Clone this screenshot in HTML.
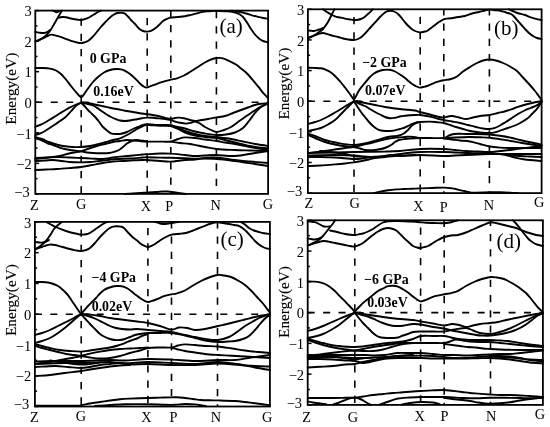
<!DOCTYPE html>
<html><head><meta charset="utf-8"><style>
html,body{margin:0;padding:0;background:#fff;}
svg{display:block;}
text{font-family:"Liberation Serif", "DejaVu Serif", serif;fill:#000;}
.bd path{fill:none;stroke:#000;stroke-width:1.9;stroke-linejoin:round;stroke-linecap:round;}
.dv{stroke:#000;stroke-width:1.6;stroke-dasharray:7.3 7.95;}
.dh{stroke:#000;stroke-width:1.6;stroke-dasharray:7 8.45;}
.tk{stroke:#000;stroke-width:1.5;}
.fr{fill:none;stroke:#000;stroke-width:1.8;}
.tl{font-size:14.5px;text-anchor:end;}
.kl{font-size:14.3px;text-anchor:middle;}
.yl{font-size:15.3px;text-anchor:middle;stroke:#000;stroke-width:0.12px;}
.an{font-size:13.9px;font-weight:bold;}
.lt{font-size:21px;}
</style></head><body>
<svg width="550" height="427" viewBox="0 0 550 427">
<defs><clipPath id="cpa"><rect x="35.3" y="10.6" width="232.8" height="183.3"/></clipPath><clipPath id="cpb"><rect x="307.9" y="9.3" width="233.7" height="183.8"/></clipPath><clipPath id="cpc"><rect x="34.9" y="221.9" width="235" height="184.6"/></clipPath><clipPath id="cpd"><rect x="307.7" y="220.3" width="235.2" height="184.6"/></clipPath></defs>
<g class="bd"><path d="M35.3 68C36.42 68 39.55 67.9 42 68C44.45 68.1 47.67 68.18 50 68.6C52.33 69.02 54.17 69.6 56 70.5C57.83 71.4 59.33 72.5 61 74C62.67 75.5 64.33 77.5 66 79.5C67.67 81.5 69.5 84.08 71 86C72.5 87.92 73.75 89.5 75 91C76.25 92.5 77.45 93.95 78.5 95C79.55 96.05 80.38 97.42 81.3 97.3C82.22 97.18 82.88 95.77 84 94.3C85.12 92.83 86.5 90.55 88 88.5C89.5 86.45 91.33 83.92 93 82C94.67 80.08 96.17 78.58 98 77C99.83 75.42 102 73.67 104 72.5C106 71.33 107.83 70.58 110 70C112.17 69.42 115.17 69.1 117 69C118.83 68.9 119.67 69.1 121 69.4C122.33 69.7 123.67 70.15 125 70.8C126.33 71.45 127.67 72.35 129 73.3C130.33 74.25 131.67 75.33 133 76.5C134.33 77.67 135.75 79.05 137 80.3C138.25 81.55 139.42 82.98 140.5 84C141.58 85.02 142.5 85.8 143.5 86.4C144.5 87 145.42 87.6 146.5 87.6C147.58 87.6 148.58 86.9 150 86.4C151.42 85.9 153.33 85.22 155 84.6C156.67 83.98 158.33 83.27 160 82.7C161.67 82.13 163.17 81.72 165 81.2C166.83 80.68 169 80.08 171 79.6C173 79.12 174.83 78.98 177 78.3C179.17 77.62 181.83 76.55 184 75.5C186.17 74.45 187.83 73.33 190 72C192.17 70.67 194.67 69 197 67.5C199.33 66 201.67 64.33 204 63C206.33 61.67 208.83 60.33 211 59.5C213.17 58.67 215 58.2 217 58C219 57.8 220.83 57.73 223 58.3C225.17 58.87 227.83 60.37 230 61.4C232.17 62.43 234.17 63.32 236 64.5C237.83 65.68 239.17 67 241 68.5C242.83 70 244.92 71.45 247 73.5C249.08 75.55 251.55 78.52 253.5 80.8C255.45 83.08 256.98 85.05 258.7 87.2C260.42 89.35 262.23 91.9 263.8 93.7C265.37 95.5 267.38 97.28 268.1 98"/><path d="M35.3 41.5C36.08 41.2 38.38 40.4 40 39.7C41.62 39 43.5 38.03 45 37.3C46.5 36.57 47.83 35.75 49 35.3C50.17 34.85 50.5 34.45 52 34.6C53.5 34.75 55.83 35.53 58 36.2C60.17 36.87 62.67 37.77 65 38.6C67.33 39.43 69.83 40.52 72 41.2C74.17 41.88 76.47 42.4 78 42.7C79.53 43 80.2 43.03 81.2 43C82.2 42.97 82.87 42.83 84 42.5C85.13 42.17 86.67 41.83 88 41C89.33 40.17 90.67 38.83 92 37.5C93.33 36.17 94.67 34.58 96 33C97.33 31.42 98.5 29.75 100 28C101.5 26.25 103.33 24.25 105 22.5C106.67 20.75 108.5 18.83 110 17.5C111.5 16.17 112.75 15.25 114 14.5C115.25 13.75 116.33 13.27 117.5 13C118.67 12.73 119.83 12.85 121 12.9C122.17 12.95 123.33 12.7 124.5 13.3C125.67 13.9 126.92 15.38 128 16.5C129.08 17.62 129.83 18.75 131 20C132.17 21.25 133.58 22.5 135 24C136.42 25.5 138.17 27.83 139.5 29C140.83 30.17 141.75 30.57 143 31C144.25 31.43 145.67 31.63 147 31.6C148.33 31.57 149.67 31.32 151 30.8C152.33 30.28 153.67 29.47 155 28.5C156.33 27.53 157.67 26.25 159 25C160.33 23.75 161.67 22.02 163 21C164.33 19.98 165.7 19.48 167 18.9C168.3 18.32 168.97 17.82 170.8 17.5C172.63 17.18 175.63 17.22 178 17C180.37 16.78 182.83 16.57 185 16.2C187.17 15.83 189 15.28 191 14.8C193 14.32 195 13.78 197 13.3C199 12.82 201.17 12.23 203 11.9C204.83 11.57 206.5 11.45 208 11.3C209.5 11.15 210.67 11.07 212 11C213.33 10.93 213.83 10.85 216 10.9C218.17 10.95 222.17 11.12 225 11.3C227.83 11.48 230.67 11.55 233 12C235.33 12.45 237.33 13.17 239 14C240.67 14.83 241.67 15.58 243 17C244.33 18.42 245.67 20.5 247 22.5C248.33 24.5 249.67 27 251 29C252.33 31 253.67 32.92 255 34.5C256.33 36.08 257.67 37.42 259 38.5C260.33 39.58 261.48 40.37 263 41C264.52 41.63 267.25 42.08 268.1 42.3"/><path d="M58.5 17.8C59.08 17.67 60.75 17.1 62 17C63.25 16.9 64.33 16.9 66 17.2C67.67 17.5 70 18.37 72 18.8C74 19.23 76.47 19.6 78 19.8C79.53 20 80.03 20.13 81.2 20C82.37 19.87 83.7 19.42 85 19C86.3 18.58 87.5 18.25 89 17.5C90.5 16.75 92.5 15.42 94 14.5C95.5 13.58 96.83 12.65 98 12C99.17 11.35 100.5 10.83 101 10.6"/><path d="M37 41C37.83 40.58 40.33 39.58 42 38.5C43.67 37.42 45.5 36 47 34.5C48.5 33 49.67 31.5 51 29.5C52.33 27.5 53.75 24.67 55 22.5C56.25 20.33 57.33 18.48 58.5 16.5C59.67 14.52 61.42 11.58 62 10.6"/><path d="M35.3 32C36.08 32.13 38.55 32.63 40 32.8C41.45 32.97 42.83 33.1 44 33C45.17 32.9 46 32.7 47 32.2C48 31.7 49.5 30.37 50 30"/><path d="M53 10.6C53.58 10.88 55.42 12.23 56.5 12.3C57.58 12.37 59 11.22 59.5 11"/><path d="M232 10.6C233.33 10.83 237.67 11.52 240 12C242.33 12.48 244 12.95 246 13.5C248 14.05 250 14.75 252 15.3C254 15.85 256.17 16.35 258 16.8C259.83 17.25 261.32 17.67 263 18C264.68 18.33 267.25 18.67 268.1 18.8"/><path d="M35.3 126.6C36.08 126.33 38.38 125.68 40 125C41.62 124.32 43.33 123.42 45 122.5C46.67 121.58 48.33 120.5 50 119.5C51.67 118.5 53.33 117.53 55 116.5C56.67 115.47 58.33 114.35 60 113.3C61.67 112.25 63.33 111.18 65 110.2C66.67 109.22 68.33 108.27 70 107.4C71.67 106.53 73.58 105.63 75 105C76.42 104.37 77.47 103.97 78.5 103.6C79.53 103.23 80.75 102.93 81.2 102.8"/><path d="M35.3 135C36.08 134.75 38.38 134.17 40 133.5C41.62 132.83 43.33 131.95 45 131C46.67 130.05 48.33 128.88 50 127.8C51.67 126.72 53.33 125.63 55 124.5C56.67 123.37 58.33 122.17 60 121C61.67 119.83 63.5 118.75 65 117.5C66.5 116.25 67.67 114.92 69 113.5C70.33 112.08 71.67 110.42 73 109C74.33 107.58 75.63 106.03 77 105C78.37 103.97 80.5 103.17 81.2 102.8"/><path d="M81.2 102.8C81.83 102.82 83.7 102.83 85 102.9C86.3 102.97 88.33 103.15 89 103.2"/><path d="M81.2 102.8C82.67 102.92 87.37 103.13 90 103.5C92.63 103.87 94.83 104.55 97 105C99.17 105.45 100.83 105.73 103 106.2C105.17 106.67 107.5 107.28 110 107.8C112.5 108.32 115.5 108.82 118 109.3C120.5 109.78 122.5 110.25 125 110.7C127.5 111.15 130.5 111.58 133 112C135.5 112.42 137.67 112.83 140 113.2C142.33 113.57 144.67 113.85 147 114.2C149.33 114.55 151.83 114.92 154 115.3C156.17 115.68 158.17 116.08 160 116.5C161.83 116.92 163.23 117.38 165 117.8C166.77 118.22 168.93 118.97 170.6 119C172.27 119.03 173.6 118.23 175 118C176.4 117.77 177.33 117.52 179 117.6C180.67 117.68 183 118.07 185 118.5C187 118.93 189.33 119.78 191 120.2C192.67 120.62 193.5 120.98 195 121C196.5 121.02 197.83 120.63 200 120.3C202.17 119.97 205.23 119.48 208 119C210.77 118.52 213.77 117.9 216.6 117.4C219.43 116.9 222.27 116.73 225 116C227.73 115.27 230.33 114 233 113C235.67 112 238.5 110.92 241 110C243.5 109.08 245.67 108.33 248 107.5C250.33 106.67 252.83 105.62 255 105C257.17 104.38 258.82 104.13 261 103.8C263.18 103.47 266.92 103.13 268.1 103"/><path d="M81.2 102.8C82.33 103 86.03 103.55 88 104C89.97 104.45 91.33 104.75 93 105.5C94.67 106.25 96.33 107.42 98 108.5C99.67 109.58 101.5 110.95 103 112C104.5 113.05 105.67 113.97 107 114.8C108.33 115.63 109.5 116.27 111 117C112.5 117.73 114.5 118.62 116 119.2C117.5 119.78 118.5 120.2 120 120.5C121.5 120.8 123.33 121 125 121C126.67 121 128 120.8 130 120.5C132 120.2 135 119.58 137 119.2C139 118.82 140.33 118.47 142 118.2C143.67 117.93 145.17 117.67 147 117.6C148.83 117.53 151 117.67 153 117.8C155 117.93 157 118.2 159 118.4C161 118.6 163.08 118.73 165 119C166.92 119.27 168.83 119.58 170.5 120C172.17 120.42 173.42 121.03 175 121.5C176.58 121.97 178.17 122.45 180 122.8C181.83 123.15 184.17 123.6 186 123.6C187.83 123.6 189.5 123.15 191 122.8C192.5 122.45 193.5 121.38 195 121.5C196.5 121.62 198.33 122.58 200 123.5C201.67 124.42 203.17 125.92 205 127C206.83 128.08 209.07 129.17 211 130C212.93 130.83 214.43 132 216.6 132C218.77 132 221.6 130.83 224 130C226.4 129.17 228.67 128.33 231 127C233.33 125.67 235.67 123.67 238 122C240.33 120.33 242.83 118.5 245 117C247.17 115.5 249 114.33 251 113C253 111.67 255.17 110.17 257 109C258.83 107.83 260.15 106.95 262 106C263.85 105.05 267.08 103.75 268.1 103.3"/><path d="M81.2 102.8C81.67 103.25 82.87 104.3 84 105.5C85.13 106.7 86.67 108.58 88 110C89.33 111.42 90.67 112.67 92 114C93.33 115.33 94.67 116.5 96 118C97.33 119.5 98.83 121.5 100 123C101.17 124.5 101.83 125.75 103 127C104.17 128.25 105.67 129.45 107 130.5C108.33 131.55 109.5 132.72 111 133.3C112.5 133.88 114.33 133.92 116 134C117.67 134.08 119.17 134.13 121 133.8C122.83 133.47 125 132.8 127 132C129 131.2 131.17 129.83 133 129C134.83 128.17 136.33 127.67 138 127C139.67 126.33 141.5 125.47 143 125C144.5 124.53 145.5 124.3 147 124.2C148.5 124.1 150.5 124.28 152 124.4C153.5 124.52 154.17 124.8 156 124.9C157.83 125 160.58 124.95 163 125C165.42 125.05 168.17 124.78 170.5 125.2C172.83 125.62 174.58 126.53 177 127.5C179.42 128.47 182 129.92 185 131C188 132.08 191.67 133.17 195 134C198.33 134.83 201.4 135.5 205 136C208.6 136.5 213.43 136.67 216.6 137C219.77 137.33 221.6 137.67 224 138C226.4 138.33 227.83 138.42 231 139C234.17 139.58 239 140.67 243 141.5C247 142.33 251.83 143.42 255 144C258.17 144.58 259.82 144.67 262 145C264.18 145.33 267.08 145.83 268.1 146"/><path d="M35.3 137C36.42 137.33 39.72 138.17 42 139C44.28 139.83 46.67 141.13 49 142C51.33 142.87 53.67 143.53 56 144.2C58.33 144.87 60.33 145.53 63 146C65.67 146.47 69 146.83 72 147C75 147.17 78 147.17 81 147C84 146.83 87 146.5 90 146C93 145.5 96.33 144.67 99 144C101.67 143.33 103.67 142.67 106 142C108.33 141.33 111 140.5 113 140C115 139.5 116.33 139.5 118 139C119.67 138.5 121.33 137.75 123 137C124.67 136.25 126.33 135.42 128 134.5C129.67 133.58 131.33 132.5 133 131.5C134.67 130.5 136.33 129.42 138 128.5C139.67 127.58 141.5 126.62 143 126C144.5 125.38 145.5 124.93 147 124.8C148.5 124.67 149.83 125.03 152 125.2C154.17 125.37 156.92 125.67 160 125.8C163.08 125.93 167.5 125.47 170.5 126C173.5 126.53 175.58 127.92 178 129C180.42 130.08 182.17 131.42 185 132.5C187.83 133.58 191.67 134.75 195 135.5C198.33 136.25 201.4 136.58 205 137C208.6 137.42 213.27 137.5 216.6 138C219.93 138.5 221.93 139.25 225 140C228.07 140.75 230.83 141.5 235 142.5C239.17 143.5 244.48 145 250 146C255.52 147 265.08 148.08 268.1 148.5"/><path d="M35.3 138.2C36.42 138.58 39.97 139.65 42 140.5C44.03 141.35 45.67 142.55 47.5 143.3C49.33 144.05 50.58 144.15 53 145C55.42 145.85 58.83 147.52 62 148.4C65.17 149.28 68.83 149.82 72 150.3C75.17 150.78 78.5 150.93 81 151.3C83.5 151.67 85 152.22 87 152.5C89 152.78 90.67 152.88 93 153C95.33 153.12 98.33 153.2 101 153.2C103.67 153.2 106.67 153.28 109 153C111.33 152.72 113.33 152 115 151.5C116.67 151 117.67 150.75 119 150C120.33 149.25 121.67 148.08 123 147C124.33 145.92 125.5 144.5 127 143.5C128.5 142.5 130.33 141.58 132 141C133.67 140.42 135.17 140.03 137 140C138.83 139.97 141.33 140.53 143 140.8C144.67 141.07 146.33 141.47 147 141.6"/><path d="M35.3 159C36.75 158.83 41.05 158.33 44 158C46.95 157.67 50 157.42 53 157C56 156.58 59.67 156 62 155.5C64.33 155 65 154.5 67 154C69 153.5 71.67 152.95 74 152.5C76.33 152.05 78.5 151.97 81 151.3C83.5 150.63 86.33 149.38 89 148.5C91.67 147.62 94.33 146.75 97 146C99.67 145.25 102.33 144.67 105 144C107.67 143.33 110.5 142.5 113 142C115.5 141.5 117.67 141.33 120 141C122.33 140.67 124.5 140.08 127 140C129.5 139.92 132.67 140.3 135 140.5C137.33 140.7 139 141.02 141 141.2C143 141.38 144.67 141.53 147 141.6C149.33 141.67 152.33 141.6 155 141.6C157.67 141.6 160.42 141.6 163 141.6C165.58 141.6 168 142.03 170.5 141.6C173 141.17 175.58 139.7 178 139C180.42 138.3 182.17 137.57 185 137.4C187.83 137.23 191.67 137.65 195 138C198.33 138.35 201.4 139 205 139.5C208.6 140 213.27 140.5 216.6 141C219.93 141.5 221.93 142 225 142.5C228.07 143 230.83 143.25 235 144C239.17 144.75 244.48 146 250 147C255.52 148 265.08 149.5 268.1 150"/><path d="M170.5 141.6C172.08 141.83 176.75 142.6 180 143C183.25 143.4 185.83 143.33 190 144C194.17 144.67 200.57 146.17 205 147C209.43 147.83 211.6 148.5 216.6 149C221.6 149.5 229.43 149.75 235 150C240.57 150.25 244.48 150.33 250 150.5C255.52 150.67 265.08 150.92 268.1 151"/><path d="M35.3 158C36.92 157.92 41.38 157.67 45 157.5C48.62 157.33 52.83 157 57 157C61.17 157 66 157.33 70 157.5C74 157.67 77.33 157.82 81 158C84.67 158.18 88.33 158.43 92 158.6C95.67 158.77 99.5 159.18 103 159C106.5 158.82 109.67 157.93 113 157.5C116.33 157.07 119.67 156.73 123 156.4C126.33 156.07 129.67 155.82 133 155.5C136.33 155.18 140.67 154.72 143 154.5C145.33 154.28 144.17 154.37 147 154.2C149.83 154.03 156.08 153.6 160 153.5C163.92 153.4 166.33 153.35 170.5 153.6C174.67 153.85 180.92 154.6 185 155C189.08 155.4 191.67 155.92 195 156C198.33 156.08 201.4 155.67 205 155.5C208.6 155.33 211.6 154.92 216.6 155C221.6 155.08 228.6 156.33 235 156C241.4 155.67 249.48 153.83 255 153C260.52 152.17 265.92 151.33 268.1 151"/><path d="M35.3 161C36.92 160.92 42.05 160.67 45 160.5C47.95 160.33 50.17 159.92 53 160C55.83 160.08 59.33 160.67 62 161C64.67 161.33 65.83 161.77 69 162C72.17 162.23 77.5 162.4 81 162.4C84.5 162.4 87 162.23 90 162C93 161.77 96 161.33 99 161C102 160.67 105 160.33 108 160C111 159.67 113.33 159.25 117 159C120.67 158.75 125.67 158.75 130 158.5C134.33 158.25 140.17 157.7 143 157.5C145.83 157.3 144.17 157.28 147 157.3C149.83 157.32 156.08 157.52 160 157.6C163.92 157.68 166.33 157.7 170.5 157.8C174.67 157.9 180.92 158.07 185 158.2C189.08 158.33 189.73 158.47 195 158.6C200.27 158.73 209.93 158.6 216.6 159C223.27 159.4 228.6 160.17 235 161C241.4 161.83 249.48 163.17 255 164C260.52 164.83 265.92 165.67 268.1 166"/><path d="M35.3 170C37.08 169.92 42.38 169.67 46 169.5C49.62 169.33 53 169.25 57 169C61 168.75 66 168.33 70 168C74 167.67 77.33 167.5 81 167C84.67 166.5 88.33 165.67 92 165C95.67 164.33 99.5 163.58 103 163C106.5 162.42 109.67 161.83 113 161.5C116.33 161.17 119.67 161.2 123 161C126.33 160.8 129.67 160.47 133 160.3C136.33 160.13 140.67 160.05 143 160C145.33 159.95 144.17 159.83 147 160C149.83 160.17 156.08 160.73 160 161C163.92 161.27 166.33 161.77 170.5 161.6C174.67 161.43 180.92 160.35 185 160C189.08 159.65 191.67 159.83 195 159.5C198.33 159.17 201.4 158.33 205 158C208.6 157.67 211.6 157.17 216.6 157.5C221.6 157.83 229.43 159.33 235 160C240.57 160.67 244.48 161 250 161.5C255.52 162 265.08 162.75 268.1 163"/><path d="M125 194C126.33 193.9 130.5 193.57 133 193.4C135.5 193.23 137.5 193.17 140 193C142.5 192.83 145.33 192.57 148 192.4C150.67 192.23 153.5 192.15 156 192C158.5 191.85 161 191.58 163 191.5C165 191.42 166.17 191.37 168 191.5C169.83 191.63 172 192.02 174 192.3C176 192.58 178 192.92 180 193.2C182 193.48 185 193.87 186 194"/><path d="M170.5 125.3C171.75 125.58 175.58 126.47 178 127C180.42 127.53 182.17 127.75 185 128.5C187.83 129.25 191.67 130.67 195 131.5C198.33 132.33 201.4 132.92 205 133.5C208.6 134.08 213.1 134.83 216.6 135C220.1 135.17 222.93 134.92 226 134.5C229.07 134.08 232.17 133.58 235 132.5C237.83 131.42 240.67 129.92 243 128C245.33 126.08 247 123.5 249 121C251 118.5 253 115.33 255 113C257 110.67 258.82 108.58 261 107C263.18 105.42 266.92 104.08 268.1 103.5"/></g>
<g clip-path="url(#cpa)">
<line class="dv" x1="81.2" y1="3.25" x2="81.2" y2="193.9"/>
<line class="dv" x1="147.2" y1="2.75" x2="147.2" y2="193.9"/>
<line class="dv" x1="170.8" y1="9.75" x2="170.8" y2="193.9"/>
<line class="dv" x1="216.4" y1="-4.3" x2="216.4" y2="193.9"/>
<line class="dh" x1="35.3" y1="102.25" x2="268.1" y2="102.25"/>
</g>
<line class="tk" x1="35.3" y1="193.9" x2="39.1" y2="193.9"/>
<line class="tk" x1="35.3" y1="178.62" x2="37.5" y2="178.62"/>
<line class="tk" x1="35.3" y1="163.35" x2="39.1" y2="163.35"/>
<line class="tk" x1="35.3" y1="148.08" x2="37.5" y2="148.08"/>
<line class="tk" x1="35.3" y1="132.8" x2="39.1" y2="132.8"/>
<line class="tk" x1="35.3" y1="117.53" x2="37.5" y2="117.53"/>
<line class="tk" x1="35.3" y1="102.25" x2="39.1" y2="102.25"/>
<line class="tk" x1="35.3" y1="86.98" x2="37.5" y2="86.98"/>
<line class="tk" x1="35.3" y1="71.7" x2="39.1" y2="71.7"/>
<line class="tk" x1="35.3" y1="56.43" x2="37.5" y2="56.43"/>
<line class="tk" x1="35.3" y1="41.15" x2="39.1" y2="41.15"/>
<line class="tk" x1="35.3" y1="25.88" x2="37.5" y2="25.88"/>
<line class="tk" x1="35.3" y1="10.6" x2="39.1" y2="10.6"/>
<rect class="fr" x="35.3" y="10.6" width="232.8" height="183.3"/>
<text class="tl" x="31.7" y="16.3">3</text>
<text class="tl" x="31.7" y="46.85">2</text>
<text class="tl" x="31.7" y="77.4">1</text>
<text class="tl" x="31.7" y="107.95">0</text>
<text class="tl" x="31.7" y="138.5">−1</text>
<text class="tl" x="31.7" y="169.05">−2</text>
<text class="tl" x="29.7" y="196.7">−3</text>
<text class="kl" x="34.4" y="210">Z</text>
<text class="kl" x="81.2" y="209.3">G</text>
<text class="kl" x="145.9" y="210.9">X</text>
<text class="kl" x="169.3" y="211.4">P</text>
<text class="kl" x="215.6" y="210">N</text>
<text class="kl" x="268" y="208.7">G</text>
<text class="yl" transform="translate(15.7 88.7) rotate(-90)">Energy(eV)</text>
<text class="an" x="89.7" y="63.4">0 GPa</text>
<text class="an" x="93.2" y="96.3">0.16eV</text>
<text class="lt" x="219.4" y="32.6">(a)</text>
<g class="bd"><path d="M307.9 67.8C308.92 67.82 311.82 67.82 314 67.9C316.18 67.98 319 67.98 321 68.3C323 68.62 324.33 69.1 326 69.8C327.67 70.5 329.33 71.3 331 72.5C332.67 73.7 334.33 75.33 336 77C337.67 78.67 339.5 80.75 341 82.5C342.5 84.25 343.67 85.78 345 87.5C346.33 89.22 347.92 91.33 349 92.8C350.08 94.27 350.7 95.22 351.5 96.3C352.3 97.38 353.05 99.3 353.8 99.3C354.55 99.3 355.13 97.77 356 96.3C356.87 94.83 357.67 92.55 359 90.5C360.33 88.45 362.33 86.08 364 84C365.67 81.92 367.33 79.75 369 78C370.67 76.25 372.33 74.67 374 73.5C375.67 72.33 377.5 71.58 379 71C380.5 70.42 381.67 70.23 383 70C384.33 69.77 385.67 69.6 387 69.6C388.33 69.6 389.67 69.68 391 70C392.33 70.32 393.5 70.75 395 71.5C396.5 72.25 398.33 73.42 400 74.5C401.67 75.58 403.5 76.83 405 78C406.5 79.17 407.67 80.42 409 81.5C410.33 82.58 411.75 83.67 413 84.5C414.25 85.33 415.37 85.98 416.5 86.5C417.63 87.02 418.72 87.52 419.8 87.6C420.88 87.68 421.8 87.27 423 87C424.2 86.73 425.67 86.45 427 86C428.33 85.55 429.67 84.87 431 84.3C432.33 83.73 433.67 83.1 435 82.6C436.33 82.1 437.57 81.68 439 81.3C440.43 80.92 441.6 80.68 443.6 80.3C445.6 79.92 448.77 79.63 451 79C453.23 78.37 455 77.75 457 76.5C459 75.25 460.83 73.08 463 71.5C465.17 69.92 467.67 68.42 470 67C472.33 65.58 474.83 64.08 477 63C479.17 61.92 480.9 61.08 483 60.5C485.1 59.92 487.43 59.5 489.6 59.5C491.77 59.5 493.77 59.92 496 60.5C498.23 61.08 500.67 62 503 63C505.33 64 507.67 65.17 510 66.5C512.33 67.83 514.83 69.17 517 71C519.17 72.83 521 75.33 523 77.5C525 79.67 527 81.75 529 84C531 86.25 533.5 89.17 535 91C536.5 92.83 536.9 93.5 538 95C539.1 96.5 541 99.17 541.6 100"/><path d="M307.9 38C308.75 37.63 311.32 36.47 313 35.8C314.68 35.13 316.33 34.47 318 34C319.67 33.53 321.33 32.95 323 33C324.67 33.05 326.33 33.83 328 34.3C329.67 34.77 331.33 35.35 333 35.8C334.67 36.25 336.33 36.55 338 37C339.67 37.45 341.33 38.08 343 38.5C344.67 38.92 346.2 39.25 348 39.5C349.8 39.75 352.13 40.08 353.8 40C355.47 39.92 356.63 39.58 358 39C359.37 38.42 360.67 37.58 362 36.5C363.33 35.42 364.67 33.92 366 32.5C367.33 31.08 368.5 29.67 370 28C371.5 26.33 373.33 24.33 375 22.5C376.67 20.67 378.33 18.67 380 17C381.67 15.33 383.67 13.5 385 12.5C386.33 11.5 387 11.28 388 11C389 10.72 390 10.72 391 10.8C392 10.88 392.83 10.97 394 11.5C395.17 12.03 396.67 12.83 398 14C399.33 15.17 400.67 16.92 402 18.5C403.33 20.08 404.67 22 406 23.5C407.33 25 408.67 26.33 410 27.5C411.33 28.67 412.33 29.68 414 30.5C415.67 31.32 418.33 32.2 420 32.4C421.67 32.6 422.83 31.93 424 31.7C425.17 31.47 425.83 31.62 427 31C428.17 30.38 429.67 29 431 28C432.33 27 433.67 26 435 25C436.33 24 437.57 22.93 439 22C440.43 21.07 442.1 19.98 443.6 19.4C445.1 18.82 446.43 18.73 448 18.5C449.57 18.27 451.33 18.25 453 18C454.67 17.75 456 17.33 458 17C460 16.67 462.67 16.58 465 16C467.33 15.42 469.67 14.17 472 13.5C474.33 12.83 476.83 12.5 479 12C481.17 11.5 483.23 10.9 485 10.5C486.77 10.1 487.93 9.65 489.6 9.6C491.27 9.55 493.1 9.97 495 10.2C496.9 10.43 499.17 10.62 501 11C502.83 11.38 504.33 12 506 12.5C507.67 13 509.67 13.33 511 14C512.33 14.67 513 15.5 514 16.5C515 17.5 515.83 18.67 517 20C518.17 21.33 519.67 23 521 24.5C522.33 26 523.67 27.58 525 29C526.33 30.42 527.67 31.83 529 33C530.33 34.17 531.67 35.17 533 36C534.33 36.83 535.57 37.5 537 38C538.43 38.5 540.83 38.83 541.6 39"/><path d="M509 9.3C509.83 9.67 512.33 10.8 514 11.5C515.67 12.2 517.17 12.92 519 13.5C520.83 14.08 523 14.35 525 15C527 15.65 529.17 16.77 531 17.4C532.83 18.03 534.23 18.37 536 18.8C537.77 19.23 540.67 19.8 541.6 20"/><path d="M323 9.3C323.67 9.75 325.67 11.13 327 12C328.33 12.87 329.67 13.78 331 14.5C332.33 15.22 333.5 15.8 335 16.3C336.5 16.8 338.33 17.12 340 17.5C341.67 17.88 343.33 18.27 345 18.6C346.67 18.93 348.53 19.27 350 19.5C351.47 19.73 352.47 19.97 353.8 20C355.13 20.03 356.8 19.87 358 19.7C359.2 19.53 360 19.37 361 19C362 18.63 362.83 18.33 364 17.5C365.17 16.67 366.83 15.05 368 14C369.17 12.95 370.17 11.98 371 11.2C371.83 10.42 372.67 9.62 373 9.3"/><path d="M309 38C310 37.5 313.33 36 315 35C316.67 34 317.67 33 319 32C320.33 31 321.5 30.67 323 29C324.5 27.33 326.5 24.5 328 22C329.5 19.5 330.92 16.12 332 14C333.08 11.88 334.08 10.08 334.5 9.3"/><path d="M307.9 30.5C308.42 30.53 309.98 30.62 311 30.7C312.02 30.78 312.67 31.2 314 31C315.33 30.8 317.5 30 319 29.5C320.5 29 322.33 28.25 323 28"/><path d="M307.9 124C309.08 123.67 312.82 122.67 315 122C317.18 121.33 318.83 120.92 321 120C323.17 119.08 325.67 117.75 328 116.5C330.33 115.25 332.83 113.75 335 112.5C337.17 111.25 339.33 110 341 109C342.67 108 343.67 107.33 345 106.5C346.33 105.67 347.53 104.85 349 104C350.47 103.15 353 101.83 353.8 101.4"/><path d="M307.9 131C309.08 130.75 312.82 130 315 129.5C317.18 129 318.83 128.83 321 128C323.17 127.17 325.67 125.83 328 124.5C330.33 123.17 332.83 121.75 335 120C337.17 118.25 339.33 115.67 341 114C342.67 112.33 343.67 111.33 345 110C346.33 108.67 347.53 107.43 349 106C350.47 104.57 353 102.17 353.8 101.4"/><path d="M353.8 101.4C354.5 101.4 356.63 101.33 358 101.4C359.37 101.47 361.33 101.73 362 101.8"/><path d="M353.8 101.4C354.83 101.5 358.13 101.73 360 102C361.87 102.27 362.5 102.5 365 103C367.5 103.5 371.67 104.33 375 105C378.33 105.67 381.67 106.42 385 107C388.33 107.58 391.67 108.08 395 108.5C398.33 108.92 401.67 109.17 405 109.5C408.33 109.83 412.5 110.08 415 110.5C417.5 110.92 417.5 111.33 420 112C422.5 112.67 427.17 113.75 430 114.5C432.83 115.25 434.73 115.98 437 116.5C439.27 117.02 441.77 117.6 443.6 117.6C445.43 117.6 446.6 116.77 448 116.5C449.4 116.23 450.17 115.83 452 116C453.83 116.17 456.67 117 459 117.5C461.33 118 463.67 119 466 119C468.33 119 470.67 118 473 117.5C475.33 117 477.23 116.42 480 116C482.77 115.58 486.6 115.5 489.6 115C492.6 114.5 495.27 113.67 498 113C500.73 112.33 503.17 111.83 506 111C508.83 110.17 512 109 515 108C518 107 521.17 105.83 524 105C526.83 104.17 529.07 103.63 532 103C534.93 102.37 540 101.5 541.6 101.2"/><path d="M353.8 101.4C354.83 101.83 358.13 103.23 360 104C361.87 104.77 363.33 105.17 365 106C366.67 106.83 368.33 108 370 109C371.67 110 373.33 111.08 375 112C376.67 112.92 378.33 113.67 380 114.5C381.67 115.33 383.33 116.37 385 117C386.67 117.63 388.33 118.17 390 118.3C391.67 118.43 393.33 118.1 395 117.8C396.67 117.5 398.33 116.83 400 116.5C401.67 116.17 403.33 116 405 115.8C406.67 115.6 408.33 115.43 410 115.3C411.67 115.17 413.33 115.05 415 115C416.67 114.95 417.5 114.75 420 115C422.5 115.25 427.17 115.92 430 116.5C432.83 117.08 434.73 117.92 437 118.5C439.27 119.08 441.1 119.5 443.6 120C446.1 120.5 449.27 121 452 121.5C454.73 122 457.33 122.42 460 123C462.67 123.58 465.33 124.33 468 125C470.67 125.67 473.5 126.42 476 127C478.5 127.58 480.73 128.17 483 128.5C485.27 128.83 487.6 129.12 489.6 129C491.6 128.88 493.27 128.38 495 127.8C496.73 127.22 498.33 126.38 500 125.5C501.67 124.62 503.17 123.65 505 122.5C506.83 121.35 508.83 120.02 511 118.6C513.17 117.18 515.73 115.35 518 114C520.27 112.65 522.43 111.53 524.6 110.5C526.77 109.47 528.97 108.67 531 107.8C533.03 106.93 535.03 106.3 536.8 105.3C538.57 104.3 540.8 102.38 541.6 101.8"/><path d="M353.8 101.4C354.33 102.17 355.8 104.23 357 106C358.2 107.77 359.67 110.17 361 112C362.33 113.83 363.67 115.33 365 117C366.33 118.67 367.67 120.5 369 122C370.33 123.5 371.67 124.83 373 126C374.33 127.17 375.67 128.25 377 129C378.33 129.75 379.67 130.17 381 130.5C382.33 130.83 383.5 130.92 385 131C386.5 131.08 388.33 131.1 390 131C391.67 130.9 393.33 130.73 395 130.4C396.67 130.07 398.33 129.48 400 129C401.67 128.52 403.33 128.17 405 127.5C406.67 126.83 408.33 125.75 410 125C411.67 124.25 413.33 123.5 415 123C416.67 122.5 417.5 122.23 420 122C422.5 121.77 427.17 121.57 430 121.6C432.83 121.63 434.73 121.97 437 122.2C439.27 122.43 441.43 122.53 443.6 123C445.77 123.47 447.93 124.33 450 125C452.07 125.67 453.83 126.33 456 127C458.17 127.67 460.67 128.33 463 129C465.33 129.67 467.17 130.42 470 131C472.83 131.58 476.73 132.17 480 132.5C483.27 132.83 486.93 133.08 489.6 133C492.27 132.92 494.03 132.47 496 132C497.97 131.53 499.4 130.87 501.4 130.2C503.4 129.53 505.73 128.78 508 128C510.27 127.22 512.83 126.42 515 125.5C517.17 124.58 518.95 123.65 521 122.5C523.05 121.35 525.47 120.02 527.3 118.6C529.13 117.18 530.63 115.35 532 114C533.37 112.65 534.5 111.58 535.5 110.5C536.5 109.42 536.98 108.92 538 107.5C539.02 106.08 541 102.92 541.6 102"/><path d="M307.9 133.6C309.08 134 312.15 134.93 315 136C317.85 137.07 322 139 325 140C328 141 330.33 141.4 333 142C335.67 142.6 338.67 143.18 341 143.6C343.33 144.02 344.87 144.27 347 144.5C349.13 144.73 351.3 145.08 353.8 145C356.3 144.92 359.13 144.5 362 144C364.87 143.5 368.33 142.67 371 142C373.67 141.33 375.67 140.73 378 140C380.33 139.27 382.83 138.18 385 137.6C387.17 137.02 389 136.77 391 136.5C393 136.23 395 136.42 397 136C399 135.58 401.17 135 403 134C404.83 133 406.5 131.42 408 130C409.5 128.58 410.67 126.67 412 125.5C413.33 124.33 414.67 123.55 416 123C417.33 122.45 419.33 122.33 420 122.2"/><path d="M307.9 135C309.08 135.5 312.15 136.83 315 138C317.85 139.17 321.67 140.92 325 142C328.33 143.08 331.67 143.8 335 144.5C338.33 145.2 341.87 145.78 345 146.2C348.13 146.62 351.3 146.62 353.8 147C356.3 147.38 358.13 148 360 148.5C361.87 149 362.83 149.72 365 150C367.17 150.28 370.33 150.37 373 150.2C375.67 150.03 378.83 149.45 381 149C383.17 148.55 384.33 148.17 386 147.5C387.67 146.83 389.5 145.92 391 145C392.5 144.08 393.67 142.83 395 142C396.33 141.17 397.33 140.5 399 140C400.67 139.5 403.17 139.25 405 139C406.83 138.75 407.5 138.67 410 138.5C412.5 138.33 416.67 138.08 420 138C423.33 137.92 426.07 138 430 138C433.93 138 440.43 138.42 443.6 138C446.77 137.58 447.27 136.17 449 135.5C450.73 134.83 452.17 134.28 454 134C455.83 133.72 458 133.8 460 133.8C462 133.8 463.5 133.97 466 134C468.5 134.03 471.07 133.92 475 134C478.93 134.08 485.43 134.2 489.6 134.5C493.77 134.8 496.43 135.27 500 135.8C503.57 136.33 507.67 137 511 137.7C514.33 138.4 516.83 139.23 520 140C523.17 140.77 526.4 141.53 530 142.3C533.6 143.07 539.67 144.22 541.6 144.6"/><path d="M443.6 138.3C445.5 138.17 450.6 137.72 455 137.5C459.4 137.28 465.83 137.03 470 137C474.17 136.97 476.73 137.18 480 137.3C483.27 137.42 486.27 137.38 489.6 137.7C492.93 138.02 496.43 138.65 500 139.2C503.57 139.75 507.67 140.43 511 141C514.33 141.57 516.83 142.05 520 142.6C523.17 143.15 526.4 143.73 530 144.3C533.6 144.87 539.67 145.72 541.6 146"/><path d="M307.9 153C309.08 152.88 312.15 152.63 315 152.3C317.85 151.97 321.67 151.47 325 151C328.33 150.53 331.67 150 335 149.5C338.33 149 341.87 148.42 345 148C348.13 147.58 350.97 147.5 353.8 147C356.63 146.5 359.13 145.67 362 145C364.87 144.33 368 143.75 371 143C374 142.25 377 141.25 380 140.5C383 139.75 386 139 389 138.5C392 138 395.33 137.75 398 137.5C400.67 137.25 403 137.15 405 137C407 136.85 408.33 136.57 410 136.6C411.67 136.63 413.33 136.97 415 137.2C416.67 137.43 419.17 137.87 420 138"/><path d="M307.9 153C309.92 152.97 315.48 152.88 320 152.8C324.52 152.72 329.37 152.63 335 152.5C340.63 152.37 347.97 152.12 353.8 152C359.63 151.88 364.8 151.87 370 151.8C375.2 151.73 380 151.73 385 151.6C390 151.47 394.17 151.43 400 151C405.83 150.57 412.73 149.33 420 149C427.27 148.67 437.77 148.83 443.6 149C449.43 149.17 451.27 149.67 455 150C458.73 150.33 462.17 150.75 466 151C469.83 151.25 474.07 151.33 478 151.5C481.93 151.67 485.93 152.08 489.6 152C493.27 151.92 496.6 151.33 500 151C503.4 150.67 506.67 150.42 510 150C513.33 149.58 516.67 148.92 520 148.5C523.33 148.08 526.4 147.92 530 147.5C533.6 147.08 539.67 146.25 541.6 146"/><path d="M307.9 155.6C309.92 155.53 315.48 155.3 320 155.2C324.52 155.1 329.37 154.95 335 155C340.63 155.05 348.8 155.25 353.8 155.5C358.8 155.75 361.47 156.25 365 156.5C368.53 156.75 371.67 157.03 375 157C378.33 156.97 380.83 156.8 385 156.3C389.17 155.8 394.17 154.72 400 154C405.83 153.28 412.73 152.33 420 152C427.27 151.67 437.77 151.92 443.6 152C449.43 152.08 451.27 152.33 455 152.5C458.73 152.67 462.17 152.87 466 153C469.83 153.13 474.07 153.3 478 153.3C481.93 153.3 485.93 152.88 489.6 153C493.27 153.12 497.27 153.67 500 154C502.73 154.33 502.67 154.67 506 155C509.33 155.33 516 155.75 520 156C524 156.25 526.4 156.33 530 156.5C533.6 156.67 539.67 156.92 541.6 157"/><path d="M307.9 157C309.92 157 315.48 156.92 320 157C324.52 157.08 329.37 157.17 335 157.5C340.63 157.83 349.3 158.83 353.8 159C358.3 159.17 359.13 158.83 362 158.5C364.87 158.17 368 157.33 371 157C374 156.67 376.67 156.83 380 156.5C383.33 156.17 387.67 155.08 391 155C394.33 154.92 395.17 156 400 156C404.83 156 412.73 155 420 155C427.27 155 437.77 155.92 443.6 156C449.43 156.08 451.27 155.67 455 155.5C458.73 155.33 462.17 155.17 466 155C469.83 154.83 474.07 154.67 478 154.5C481.93 154.33 485.93 154.08 489.6 154C493.27 153.92 496.6 154 500 154C503.4 154 506.67 154 510 154C513.33 154 516.67 154 520 154C523.33 154 526.4 154 530 154C533.6 154 539.67 154 541.6 154"/><path d="M320 151C322.5 151.25 330.83 152 335 152.5C339.17 153 341.87 153.42 345 154C348.13 154.58 350.47 155.5 353.8 156C357.13 156.5 363.13 156.83 365 157"/><path d="M307.9 166C309.92 165.92 315.48 165.77 320 165.5C324.52 165.23 330.83 164.73 335 164.4C339.17 164.07 341.87 163.83 345 163.5C348.13 163.17 350.97 162.82 353.8 162.4C356.63 161.98 359.47 161.48 362 161C364.53 160.52 366.83 160 369 159.5C371.17 159 372.33 158.42 375 158C377.67 157.58 381.67 157.33 385 157C388.33 156.67 391.67 156.25 395 156C398.33 155.75 401.67 155.67 405 155.5C408.33 155.33 413.33 155.08 415 155"/><path d="M506 155C507.5 155.42 511.83 156.75 515 157.5C518.17 158.25 520.57 158.92 525 159.5C529.43 160.08 538.83 160.75 541.6 161"/><path d="M374 193.1C375 192.85 377.67 192.07 380 191.6C382.33 191.13 385.33 190.67 388 190.3C390.67 189.93 393.33 189.62 396 189.4C398.67 189.18 401.33 189.12 404 189C406.67 188.88 409.33 188.8 412 188.7C414.67 188.6 416.67 188.52 420 188.4C423.33 188.28 428 188.13 432 188C436 187.87 440.67 187.53 444 187.6C447.33 187.67 449.67 188.07 452 188.4C454.33 188.73 456 189.17 458 189.6C460 190.03 462 190.53 464 191C466 191.47 468 192.13 470 192.4C472 192.67 472.67 192.62 476 192.6C479.33 192.58 486 192.35 490 192.3C494 192.25 496.67 192.25 500 192.3C503.33 192.35 507 192.47 510 192.6C513 192.73 516.67 193.02 518 193.1"/><path d="M443.6 138.5C445 138.67 449.27 139.17 452 139.5C454.73 139.83 457 140.17 460 140.5C463 140.83 466.67 140.92 470 141.5C473.33 142.08 476.73 143.17 480 144C483.27 144.83 486.27 145.9 489.6 146.5C492.93 147.1 496.43 147.35 500 147.6C503.57 147.85 506.83 147.93 511 148C515.17 148.07 519.9 148 525 148C530.1 148 538.83 148 541.6 148"/></g>
<g clip-path="url(#cpb)">
<line class="dv" x1="354" y1="1.75" x2="354" y2="193.1"/>
<line class="dv" x1="420.2" y1="1.5" x2="420.2" y2="193.1"/>
<line class="dv" x1="443.8" y1="8.25" x2="443.8" y2="193.1"/>
<line class="dv" x1="489.4" y1="8.25" x2="489.4" y2="193.1"/>
<line class="dh" x1="307.9" y1="101.2" x2="541.6" y2="101.2"/>
</g>
<line class="tk" x1="307.9" y1="193.1" x2="311.7" y2="193.1"/>
<line class="tk" x1="307.9" y1="177.78" x2="310.1" y2="177.78"/>
<line class="tk" x1="307.9" y1="162.47" x2="311.7" y2="162.47"/>
<line class="tk" x1="307.9" y1="147.15" x2="310.1" y2="147.15"/>
<line class="tk" x1="307.9" y1="131.83" x2="311.7" y2="131.83"/>
<line class="tk" x1="307.9" y1="116.52" x2="310.1" y2="116.52"/>
<line class="tk" x1="307.9" y1="101.2" x2="311.7" y2="101.2"/>
<line class="tk" x1="307.9" y1="85.88" x2="310.1" y2="85.88"/>
<line class="tk" x1="307.9" y1="70.57" x2="311.7" y2="70.57"/>
<line class="tk" x1="307.9" y1="55.25" x2="310.1" y2="55.25"/>
<line class="tk" x1="307.9" y1="39.93" x2="311.7" y2="39.93"/>
<line class="tk" x1="307.9" y1="24.62" x2="310.1" y2="24.62"/>
<line class="tk" x1="307.9" y1="9.3" x2="311.7" y2="9.3"/>
<rect class="fr" x="307.9" y="9.3" width="233.7" height="183.8"/>
<text class="tl" x="304.3" y="15">3</text>
<text class="tl" x="304.3" y="45.63">2</text>
<text class="tl" x="304.3" y="76.27">1</text>
<text class="tl" x="304.3" y="106.9">0</text>
<text class="tl" x="304.3" y="137.53">−1</text>
<text class="tl" x="304.3" y="168.17">−2</text>
<text class="tl" x="302.3" y="195.9">−3</text>
<text class="kl" x="308.8" y="208">Z</text>
<text class="kl" x="354.75" y="208">G</text>
<text class="kl" x="418.5" y="211">X</text>
<text class="kl" x="443.7" y="211.5">P</text>
<text class="kl" x="489" y="210.3">N</text>
<text class="kl" x="539.2" y="207.4">G</text>
<text class="yl" transform="translate(289.4 83.6) rotate(-90)">Energy(eV)</text>
<text class="an" x="362.2" y="67.4">−2 GPa</text>
<text class="an" x="365" y="95">0.07eV</text>
<text class="lt" x="493.9" y="34.6">(b)</text>
<g class="bd"><path d="M34.9 282C35.75 282 38.15 281.95 40 282C41.85 282.05 44 282.05 46 282.3C48 282.55 50 282.88 52 283.5C54 284.12 56.17 284.92 58 286C59.83 287.08 61.5 288.67 63 290C64.5 291.33 65.83 292.67 67 294C68.17 295.33 69 296.58 70 298C71 299.42 72 301 73 302.5C74 304 75.08 305.67 76 307C76.92 308.33 77.67 309.4 78.5 310.5C79.33 311.6 80.08 313.6 81 313.6C81.92 313.6 82.83 311.77 84 310.5C85.17 309.23 86.67 307.42 88 306C89.33 304.58 90.67 303.33 92 302C93.33 300.67 94.67 299.42 96 298C97.33 296.58 98.67 294.83 100 293.5C101.33 292.17 102.67 290.92 104 290C105.33 289.08 106.33 288.63 108 288C109.67 287.37 112.17 286.53 114 286.2C115.83 285.87 117.33 285.9 119 286C120.67 286.1 122.5 286.33 124 286.8C125.5 287.27 126.67 287.97 128 288.8C129.33 289.63 130.67 290.77 132 291.8C133.33 292.83 134.67 293.97 136 295C137.33 296.03 138.67 297.08 140 298C141.33 298.92 142.7 299.83 144 300.5C145.3 301.17 146.63 301.88 147.8 302C148.97 302.12 149.8 301.53 151 301.2C152.2 300.87 153.67 300.48 155 300C156.33 299.52 157.5 298.93 159 298.3C160.5 297.67 162.17 296.82 164 296.2C165.83 295.58 167.83 295.08 170 294.6C172.17 294.12 174.5 293.98 177 293.3C179.5 292.62 182.33 291.8 185 290.5C187.67 289.2 190.33 287.08 193 285.5C195.67 283.92 198.33 282.33 201 281C203.67 279.67 206.23 278.5 209 277.5C211.77 276.5 215.1 275.33 217.6 275C220.1 274.67 221.77 275.17 224 275.5C226.23 275.83 228.67 276.17 231 277C233.33 277.83 235.67 279.17 238 280.5C240.33 281.83 242.83 283.33 245 285C247.17 286.67 249 288.5 251 290.5C253 292.5 255 294.83 257 297C259 299.17 261.5 301.75 263 303.5C264.5 305.25 264.85 306 266 307.5C267.15 309 269.25 311.67 269.9 312.5"/><path d="M34.9 249C35.75 248.75 38.32 248.03 40 247.5C41.68 246.97 43.33 246.28 45 245.8C46.67 245.32 48.33 244.73 50 244.6C51.67 244.47 53.33 244.72 55 245C56.67 245.28 58.17 245.8 60 246.3C61.83 246.8 63.83 247.42 66 248C68.17 248.58 70.5 249.3 73 249.8C75.5 250.3 78.83 250.97 81 251C83.17 251.03 84.5 250.5 86 250C87.5 249.5 88.5 249.17 90 248C91.5 246.83 93.33 244.83 95 243C96.67 241.17 98.33 238.83 100 237C101.67 235.17 103.5 233.42 105 232C106.5 230.58 107.67 229.4 109 228.5C110.33 227.6 111.67 226.97 113 226.6C114.33 226.23 115.67 226.28 117 226.3C118.33 226.32 119.83 226.42 121 226.7C122.17 226.98 122.83 227.03 124 228C125.17 228.97 126.5 230.92 128 232.5C129.5 234.08 131.5 236.17 133 237.5C134.5 238.83 135.67 239.42 137 240.5C138.33 241.58 139.67 243.08 141 244C142.33 244.92 143.83 245.5 145 246C146.17 246.5 147 246.97 148 247C149 247.03 149.83 246.7 151 246.2C152.17 245.7 153.5 244.95 155 244C156.5 243.05 158.33 241.58 160 240.5C161.67 239.42 163.67 238.25 165 237.5C166.33 236.75 166.92 236.48 168 236C169.08 235.52 170.33 234.9 171.5 234.6C172.67 234.3 173.58 234.33 175 234.2C176.42 234.07 178.17 234 180 233.8C181.83 233.6 184 233.47 186 233C188 232.53 190 231.75 192 231C194 230.25 195.83 229.37 198 228.5C200.17 227.63 202.83 226.63 205 225.8C207.17 224.97 208.9 224.08 211 223.5C213.1 222.92 215.6 222.38 217.6 222.3C219.6 222.22 221.1 222.72 223 223C224.9 223.28 227.17 223.67 229 224C230.83 224.33 232.33 224.67 234 225C235.67 225.33 237.5 225.42 239 226C240.5 226.58 241.67 227.5 243 228.5C244.33 229.5 245.67 230.67 247 232C248.33 233.33 249.67 235 251 236.5C252.33 238 253.67 239.67 255 241C256.33 242.33 257.67 243.5 259 244.5C260.33 245.5 261.75 246.37 263 247C264.25 247.63 265.35 247.97 266.5 248.3C267.65 248.63 269.33 248.88 269.9 249"/><path d="M46 221.9C46.83 222.33 49.33 223.65 51 224.5C52.67 225.35 54.33 226.22 56 227C57.67 227.78 59.33 228.53 61 229.2C62.67 229.87 64 230.37 66 231C68 231.63 70.5 232.4 73 233C75.5 233.6 78.83 234.38 81 234.6C83.17 234.82 84.5 234.6 86 234.3C87.5 234 88.5 233.6 90 232.8C91.5 232 93.33 230.63 95 229.5C96.67 228.37 98.67 226.92 100 226C101.33 225.08 102 224.62 103 224C104 223.38 105.17 222.65 106 222.3C106.83 221.95 107.67 221.97 108 221.9"/><path d="M36 249C36.83 248.42 39.33 246.83 41 245.5C42.67 244.17 44.5 242.67 46 241C47.5 239.33 48.67 237.5 50 235.5C51.33 233.5 52.67 230.75 54 229C55.33 227.25 56.67 226.18 58 225C59.33 223.82 61.33 222.42 62 221.9"/><path d="M34.9 242C35.42 242.05 36.82 242.2 38 242.3C39.18 242.4 40.67 242.73 42 242.6C43.33 242.47 44.83 241.93 46 241.5C47.17 241.07 48.5 240.25 49 240"/><path d="M155 221.9C155.83 222.17 158.33 223.15 160 223.5C161.67 223.85 163 224.08 165 224C167 223.92 169.67 223.35 172 223C174.33 222.65 177.83 222.08 179 221.9"/><path d="M241 221.9C241.67 222.33 243.67 223.48 245 224.5C246.33 225.52 247.5 227 249 228C250.5 229 252.33 229.83 254 230.5C255.67 231.17 257.33 231.55 259 232C260.67 232.45 262.18 232.87 264 233.2C265.82 233.53 268.92 233.87 269.9 234"/><path d="M34.9 335C36.08 334.67 39.48 333.83 42 333C44.52 332.17 47.33 331.17 50 330C52.67 328.83 55.33 327.33 58 326C60.67 324.67 63.67 323.17 66 322C68.33 320.83 70.17 320 72 319C73.83 318 75.5 316.77 77 316C78.5 315.23 80.33 314.67 81 314.4"/><path d="M34.9 343C36.08 342.67 39.48 341.83 42 341C44.52 340.17 47.33 339.33 50 338C52.67 336.67 55.33 334.83 58 333C60.67 331.17 64 328.58 66 327C68 325.42 68.67 324.67 70 323.5C71.33 322.33 72.67 321.17 74 320C75.33 318.83 76.83 317.43 78 316.5C79.17 315.57 80.5 314.75 81 314.4"/><path d="M81 314.4C81.83 314.4 84.5 314.37 86 314.4C87.5 314.43 89.33 314.57 90 314.6"/><path d="M81 314.4C82.5 314.43 86.83 314.33 90 314.6C93.17 314.87 96.67 315.43 100 316C103.33 316.57 105.83 317.33 110 318C114.17 318.67 120.5 319.42 125 320C129.5 320.58 133.17 321 137 321.5C140.83 322 144.17 322.25 148 323C151.83 323.75 156.1 324.9 160 326C163.9 327.1 168.23 329.35 171.4 329.6C174.57 329.85 176.4 327.77 179 327.5C181.6 327.23 184.33 327.58 187 328C189.67 328.42 192 329.83 195 330C198 330.17 201.17 329.67 205 329C208.83 328.33 214.33 326.83 218 326C221.67 325.17 224.17 324.67 227 324C229.83 323.33 232 322.75 235 322C238 321.25 241.67 320.33 245 319.5C248.33 318.67 252.17 317.67 255 317C257.83 316.33 259.52 315.93 262 315.5C264.48 315.07 268.58 314.58 269.9 314.4"/><path d="M81 314.4C82.17 314.67 85.5 315.23 88 316C90.5 316.77 93.5 317.92 96 319C98.5 320.08 100.67 321.33 103 322.5C105.33 323.67 107.83 325.08 110 326C112.17 326.92 114 327.5 116 328C118 328.5 119.67 328.75 122 329C124.33 329.25 127.5 329.5 130 329.5C132.5 329.5 134 328.92 137 329C140 329.08 144.17 329.67 148 330C151.83 330.33 156.1 330.67 160 331C163.9 331.33 167.23 331.33 171.4 332C175.57 332.67 181.07 334.17 185 335C188.93 335.83 191.67 336.33 195 337C198.33 337.67 201.17 338.5 205 339C208.83 339.5 214 340.33 218 340C222 339.67 225.83 338.33 229 337C232.17 335.67 234.33 333.83 237 332C239.67 330.17 242.5 327.67 245 326C247.5 324.33 249.67 323.33 252 322C254.33 320.67 257 319 259 318C261 317 262.18 316.6 264 316C265.82 315.4 268.92 314.67 269.9 314.4"/><path d="M81 314.4C81.67 315.08 83.5 316.9 85 318.5C86.5 320.1 88.33 322.25 90 324C91.67 325.75 93.33 327.33 95 329C96.67 330.67 98.33 332.67 100 334C101.67 335.33 103.33 336.17 105 337C106.67 337.83 108.33 338.5 110 339C111.67 339.5 113.33 339.83 115 340C116.67 340.17 118.33 340.17 120 340C121.67 339.83 123.33 339.5 125 339C126.67 338.5 128.33 337.67 130 337C131.67 336.33 133.33 335.5 135 335C136.67 334.5 137.83 334.33 140 334C142.17 333.67 144.67 333.17 148 333C151.33 332.83 156.1 333 160 333C163.9 333 167.23 332.58 171.4 333C175.57 333.42 181.07 334.67 185 335.5C188.93 336.33 191.67 337.17 195 338C198.33 338.83 201.17 339.83 205 340.5C208.83 341.17 214.17 341.83 218 342C221.83 342.17 225.17 341.67 228 341.5C230.83 341.33 232.5 341.42 235 341C237.5 340.58 240.67 339.83 243 339C245.33 338.17 247 337.5 249 336C251 334.5 253.17 332 255 330C256.83 328 258.33 325.92 260 324C261.67 322.08 263.35 320.03 265 318.5C266.65 316.97 269.08 315.42 269.9 314.8"/><path d="M34.9 344C36.08 344.33 39.48 345.33 42 346C44.52 346.67 47 347.33 50 348C53 348.67 56.67 349.5 60 350C63.33 350.5 66.5 350.73 70 351C73.5 351.27 77.67 351.68 81 351.6C84.33 351.52 86.83 350.93 90 350.5C93.17 350.07 96.67 349.5 100 349C103.33 348.5 107 348.08 110 347.5C113 346.92 115.5 346.25 118 345.5C120.5 344.75 122.83 343.83 125 343C127.17 342.17 129 341.25 131 340.5C133 339.75 135 339.33 137 338.5C139 337.67 141.17 336.25 143 335.5C144.83 334.75 147.17 334.25 148 334"/><path d="M34.9 345.6C36.08 346 39.48 347.27 42 348C44.52 348.73 47.33 349.33 50 350C52.67 350.67 55.33 351.33 58 352C60.67 352.67 63.33 353.5 66 354C68.67 354.5 71.5 354.67 74 355C76.5 355.33 78.33 355.58 81 356C83.67 356.42 86.83 357.08 90 357.5C93.17 357.92 96.67 358.42 100 358.5C103.33 358.58 106.67 358.42 110 358C113.33 357.58 116.67 356.83 120 356C123.33 355.17 126.67 353.92 130 353C133.33 352.08 137 351.33 140 350.5C143 349.67 144.67 348.5 148 348C151.33 347.5 156.1 347.58 160 347.5C163.9 347.42 168.4 347.83 171.4 347.5C174.4 347.17 175.73 346.02 178 345.5C180.27 344.98 182.17 344.48 185 344.4C187.83 344.32 191.67 344.73 195 345C198.33 345.27 201.17 345.75 205 346C208.83 346.25 213.5 346.08 218 346.5C222.5 346.92 227.5 347.83 232 348.5C236.5 349.17 240.67 349.92 245 350.5C249.33 351.08 253.85 351.58 258 352C262.15 352.42 267.92 352.83 269.9 353"/><path d="M171.4 347.8C172.5 348.08 175.73 348.97 178 349.5C180.27 350.03 182.17 350.5 185 351C187.83 351.5 191.67 352 195 352.5C198.33 353 201.17 353.58 205 354C208.83 354.42 213.5 354.7 218 355C222.5 355.3 227.5 355.55 232 355.8C236.5 356.05 240.67 356.25 245 356.5C249.33 356.75 253.85 357.05 258 357.3C262.15 357.55 267.92 357.88 269.9 358"/><path d="M34.9 364C36.08 363.83 39.48 363.33 42 363C44.52 362.67 47.33 362.42 50 362C52.67 361.58 55.33 361 58 360.5C60.67 360 63.33 359.5 66 359C68.67 358.5 71.5 358 74 357.5C76.5 357 78.33 356.65 81 356C83.67 355.35 86.83 354.33 90 353.6C93.17 352.87 96.67 352.2 100 351.6C103.33 351 106.67 350.43 110 350C113.33 349.57 116.67 349.25 120 349C123.33 348.75 126.67 348.67 130 348.5C133.33 348.33 137 348.17 140 348C143 347.83 146.67 347.58 148 347.5"/><path d="M34.9 361.5C37.42 361.42 44.98 361.08 50 361C55.02 360.92 59.83 361 65 361C70.17 361 76 361.08 81 361C86 360.92 90.17 360.67 95 360.5C99.83 360.33 105 360 110 360C115 360 118.67 360.67 125 360.5C131.33 360.33 140.17 359.15 148 359C155.83 358.85 164.17 359.27 172 359.6C179.83 359.93 187.4 360.93 195 361C202.6 361.07 210.93 360.17 217.6 360C224.27 359.83 229.43 360.42 235 360C240.57 359.58 245.18 358.33 251 357.5C256.82 356.67 266.75 355.42 269.9 355"/><path d="M34.9 364C37.42 363.92 44.98 363.67 50 363.5C55.02 363.33 59.83 363.08 65 363C70.17 362.92 76 363.08 81 363C86 362.92 90.17 362.67 95 362.5C99.83 362.33 105 361.87 110 362C115 362.13 118.67 363.3 125 363.3C131.33 363.3 140.17 362.05 148 362C155.83 361.95 164.17 362.67 172 363C179.83 363.33 187.4 364.17 195 364C202.6 363.83 210.6 362 217.6 362C224.6 362 230.77 363.08 237 364C243.23 364.92 249.52 366.5 255 367.5C260.48 368.5 267.42 369.58 269.9 370"/><path d="M34.9 367C36.58 366.92 41.48 366.67 45 366.5C48.52 366.33 52.17 365.92 56 366C59.83 366.08 63.83 366.67 68 367C72.17 367.33 77.33 368 81 368C84.67 368 86.83 367.5 90 367C93.17 366.5 96.67 365.5 100 365C103.33 364.5 106.67 364.33 110 364C113.33 363.67 116.67 362.92 120 363C123.33 363.08 125.33 364.33 130 364.5C134.67 364.67 141 363.92 148 364C155 364.08 164.17 364.83 172 365C179.83 365.17 187.4 365.25 195 365C202.6 364.75 210.1 363.5 217.6 363.5C225.1 363.5 233.77 364.58 240 365C246.23 365.42 250.02 365.75 255 366C259.98 366.25 267.42 366.42 269.9 366.5"/><path d="M50 360.5C51.67 360.75 56.67 361.5 60 362C63.33 362.5 66.5 363.08 70 363.5C73.5 363.92 77.67 364.42 81 364.5C84.33 364.58 86.83 364.33 90 364C93.17 363.67 98.33 362.75 100 362.5"/><path d="M34.9 376C37.42 375.83 44.98 375.5 50 375C55.02 374.5 59.83 373.67 65 373C70.17 372.33 76.83 371.58 81 371C85.17 370.42 86.83 370 90 369.5C93.17 369 96.67 368.5 100 368C103.33 367.5 106.67 366.92 110 366.5C113.33 366.08 116.67 365.75 120 365.5C123.33 365.25 128.33 365.08 130 365"/><path d="M34.9 405.6C39.08 405.6 53.15 405.6 60 405.6C66.85 405.6 72.5 405.65 76 405.6C79.5 405.55 78.67 405.65 81 405.3C83.33 404.95 86.83 404.05 90 403.5C93.17 402.95 96.67 402.5 100 402C103.33 401.5 106.67 400.97 110 400.5C113.33 400.03 116.67 399.52 120 399.2C123.33 398.88 125.33 398.8 130 398.6C134.67 398.4 143 398.17 148 398C153 397.83 156.1 397.7 160 397.6C163.9 397.5 168.57 397.47 171.4 397.4C174.23 397.33 174.73 397.1 177 397.2C179.27 397.3 182.33 397.7 185 398C187.67 398.3 190.33 398.67 193 399C195.67 399.33 198.17 399.78 201 400C203.83 400.22 207.17 400.23 210 400.3C212.83 400.37 213.83 400.28 218 400.4C222.17 400.52 230.5 400.73 235 401C239.5 401.27 242 401.67 245 402C248 402.33 250.33 402.67 253 403C255.67 403.33 258.18 403.62 261 404C263.82 404.38 268.42 405.08 269.9 405.3"/><path d="M95 406C97.5 405.83 105 405.3 110 405C115 404.7 118.67 404.33 125 404.2C131.33 404.07 141.33 404.1 148 404.2C154.67 404.3 160.5 404.7 165 404.8C169.5 404.9 171.67 404.93 175 404.8C178.33 404.67 181.67 404.07 185 404C188.33 403.93 192.17 404.17 195 404.4C197.83 404.63 200.17 405.1 202 405.4C203.83 405.7 205.33 406.07 206 406.2"/></g>
<g clip-path="url(#cpc)">
<line class="dv" x1="81.2" y1="214.25" x2="81.2" y2="406.5"/>
<line class="dv" x1="147.9" y1="212.75" x2="147.9" y2="406.5"/>
<line class="dv" x1="171.5" y1="221.25" x2="171.5" y2="406.5"/>
<line class="dv" x1="217.5" y1="221.25" x2="217.5" y2="406.5"/>
<line class="dh" x1="34.9" y1="314.2" x2="269.9" y2="314.2"/>
</g>
<line class="tk" x1="34.9" y1="406.5" x2="38.7" y2="406.5"/>
<line class="tk" x1="34.9" y1="391.12" x2="37.1" y2="391.12"/>
<line class="tk" x1="34.9" y1="375.73" x2="38.7" y2="375.73"/>
<line class="tk" x1="34.9" y1="360.35" x2="37.1" y2="360.35"/>
<line class="tk" x1="34.9" y1="344.97" x2="38.7" y2="344.97"/>
<line class="tk" x1="34.9" y1="329.58" x2="37.1" y2="329.58"/>
<line class="tk" x1="34.9" y1="314.2" x2="38.7" y2="314.2"/>
<line class="tk" x1="34.9" y1="298.82" x2="37.1" y2="298.82"/>
<line class="tk" x1="34.9" y1="283.43" x2="38.7" y2="283.43"/>
<line class="tk" x1="34.9" y1="268.05" x2="37.1" y2="268.05"/>
<line class="tk" x1="34.9" y1="252.67" x2="38.7" y2="252.67"/>
<line class="tk" x1="34.9" y1="237.28" x2="37.1" y2="237.28"/>
<line class="tk" x1="34.9" y1="221.9" x2="38.7" y2="221.9"/>
<rect class="fr" x="34.9" y="221.9" width="235" height="184.6"/>
<text class="tl" x="31.3" y="227.6">3</text>
<text class="tl" x="31.3" y="258.37">2</text>
<text class="tl" x="31.3" y="289.13">1</text>
<text class="tl" x="31.3" y="319.9">0</text>
<text class="tl" x="31.3" y="350.67">−1</text>
<text class="tl" x="31.3" y="381.43">−2</text>
<text class="tl" x="29.3" y="409.3">−3</text>
<text class="kl" x="34.4" y="421.6">Z</text>
<text class="kl" x="81" y="421.3">G</text>
<text class="kl" x="146.5" y="421.7">X</text>
<text class="kl" x="173.6" y="421.7">P</text>
<text class="kl" x="216" y="421.5">N</text>
<text class="kl" x="267.2" y="421.8">G</text>
<text class="yl" transform="translate(16.2 300.1) rotate(-90)">Energy(eV)</text>
<text class="an" x="91.5" y="282.2">−4 GPa</text>
<text class="an" x="91.7" y="311.1">0.02eV</text>
<text class="lt" x="220.5" y="245.9">(c)</text>
<g class="bd"><path d="M307.7 281.3C308.92 281.35 312.95 281.42 315 281.6C317.05 281.78 318.33 282 320 282.4C321.67 282.8 323.33 283.23 325 284C326.67 284.77 328.5 285.95 330 287C331.5 288.05 332.67 289.08 334 290.3C335.33 291.52 336.67 292.97 338 294.3C339.33 295.63 340.67 296.97 342 298.3C343.33 299.63 344.67 300.93 346 302.3C347.33 303.67 348.92 305.35 350 306.5C351.08 307.65 351.73 308.35 352.5 309.2C353.27 310.05 353.85 311.63 354.6 311.6C355.35 311.57 356.1 309.93 357 309C357.9 308.07 359 307 360 306C361 305 361.67 304.17 363 303C364.33 301.83 366.33 300.33 368 299C369.67 297.67 371.33 296.33 373 295C374.67 293.67 376.33 292.08 378 291C379.67 289.92 381.33 289.3 383 288.5C384.67 287.7 386.33 286.67 388 286.2C389.67 285.73 391.33 285.63 393 285.7C394.67 285.77 396.33 286 398 286.6C399.67 287.2 401.33 288.32 403 289.3C404.67 290.28 406.33 291.28 408 292.5C409.67 293.72 411.5 295.42 413 296.6C414.5 297.78 415.75 298.8 417 299.6C418.25 300.4 419.33 301.25 420.5 301.4C421.67 301.55 422.75 300.9 424 300.5C425.25 300.1 426.17 299.72 428 299C429.83 298.28 432.27 296.98 435 296.2C437.73 295.42 441.57 294.87 444.4 294.3C447.23 293.73 449.73 293.38 452 292.8C454.27 292.22 455.67 291.93 458 290.8C460.33 289.67 463.33 287.47 466 286C468.67 284.53 471.33 283.17 474 282C476.67 280.83 479.25 279.83 482 279C484.75 278.17 488 277.25 490.5 277C493 276.75 494.75 277.17 497 277.5C499.25 277.83 501.83 278.25 504 279C506.17 279.75 508 280.92 510 282C512 283.08 514.17 284.33 516 285.5C517.83 286.67 519.33 287.75 521 289C522.67 290.25 524.5 291.58 526 293C527.5 294.42 528.67 295.92 530 297.5C531.33 299.08 532.67 300.83 534 302.5C535.33 304.17 536.52 305.87 538 307.5C539.48 309.13 542.08 311.5 542.9 312.3"/><path d="M307.7 245.5C308.25 245.3 309.78 244.72 311 244.3C312.22 243.88 313.67 243.38 315 243C316.33 242.62 317.67 242.33 319 242C320.33 241.67 321.67 241.12 323 241C324.33 240.88 325.83 241.13 327 241.3C328.17 241.47 328.67 241.72 330 242C331.33 242.28 333.33 242.67 335 243C336.67 243.33 338.33 243.67 340 244C341.67 244.33 343.33 244.67 345 245C346.67 245.33 348.4 245.75 350 246C351.6 246.25 353.1 246.67 354.6 246.5C356.1 246.33 357.6 245.58 359 245C360.4 244.42 361.5 244 363 243C364.5 242 366.33 240.33 368 239C369.67 237.67 371.33 236.25 373 235C374.67 233.75 376.33 232.5 378 231.5C379.67 230.5 381.33 229.58 383 229C384.67 228.42 386.33 228 388 228C389.67 228 391.5 228.5 393 229C394.5 229.5 395.67 230 397 231C398.33 232 399.67 233.67 401 235C402.33 236.33 403.67 237.75 405 239C406.33 240.25 407.67 241.33 409 242.5C410.33 243.67 411.67 245.17 413 246C414.33 246.83 415.77 247.17 417 247.5C418.23 247.83 419.23 248.05 420.4 248C421.57 247.95 422.73 247.53 424 247.2C425.27 246.87 426.5 246.7 428 246C429.5 245.3 431.33 244 433 243C434.67 242 436.1 241 438 240C439.9 239 442.23 237.75 444.4 237C446.57 236.25 448.73 235.83 451 235.5C453.27 235.17 455.5 235.5 458 235C460.5 234.5 463.33 233.5 466 232.5C468.67 231.5 471.33 230.17 474 229C476.67 227.83 479.25 226.62 482 225.5C484.75 224.38 488 222.67 490.5 222.3C493 221.93 494.75 222.85 497 223.3C499.25 223.75 501.83 224.47 504 225C506.17 225.53 508 226 510 226.5C512 227 514.17 227.42 516 228C517.83 228.58 519.33 229.33 521 230C522.67 230.67 524.33 231.42 526 232C527.67 232.58 529.33 233 531 233.5C532.67 234 534.02 234.58 536 235C537.98 235.42 541.75 235.83 542.9 236"/><path d="M330 230.5C330.83 230.67 333.33 231.12 335 231.5C336.67 231.88 338.33 232.38 340 232.8C341.67 233.22 343.33 233.68 345 234C346.67 234.32 348.33 234.53 350 234.7C351.67 234.87 353.33 235.12 355 235C356.67 234.88 358.67 234.25 360 234C361.33 233.75 361.67 233.92 363 233.5C364.33 233.08 366.33 232.25 368 231.5C369.67 230.75 371.33 230 373 229C374.67 228 376.33 226.58 378 225.5C379.67 224.42 381.33 223.22 383 222.5C384.67 221.78 385.5 221.45 388 221.2C390.5 220.95 394.67 220.95 398 221C401.33 221.05 404.67 221.33 408 221.5C411.33 221.67 415 221.78 418 222C421 222.22 423.33 222.63 426 222.8C428.67 222.97 431 222.93 434 223C437 223.07 441.33 223.28 444 223.2C446.67 223.12 448.33 222.82 450 222.5C451.67 222.18 452.67 221.67 454 221.3C455.33 220.93 457.33 220.47 458 220.3"/><path d="M309 245C309.83 244.58 312.5 243.25 314 242.5C315.5 241.75 316.83 241.25 318 240.5C319.17 239.75 320.17 238.75 321 238C321.83 237.25 322.33 236.75 323 236C323.67 235.25 324.33 234.33 325 233.5C325.67 232.67 326.33 231.83 327 231C327.67 230.17 328.33 229.33 329 228.5C329.67 227.67 330.33 226.83 331 226C331.67 225.17 332.33 224.45 333 223.5C333.67 222.55 334.67 220.83 335 220.3"/><path d="M307.7 238.5C308.25 238.58 309.78 238.83 311 239C312.22 239.17 313.67 239.58 315 239.5C316.33 239.42 318 238.83 319 238.5C320 238.17 320.67 237.67 321 237.5"/><path d="M307.7 221.3C308.25 221.35 309.78 221.45 311 221.6C312.22 221.75 313.83 221.88 315 222.2C316.17 222.52 317.17 223.12 318 223.5C318.83 223.88 319.33 224.15 320 224.5C320.67 224.85 321.33 225.27 322 225.6C322.67 225.93 323.17 226.33 324 226.5C324.83 226.67 326 226.6 327 226.6C328 226.6 329.5 226.52 330 226.5"/><path d="M513 220.3C513.5 220.83 515 222.38 516 223.5C517 224.62 518 225.75 519 227C520 228.25 520.83 229.5 522 231C523.17 232.5 524.83 234.58 526 236C527.17 237.42 527.83 238.42 529 239.5C530.17 240.58 531.67 241.67 533 242.5C534.33 243.33 535.35 243.92 537 244.5C538.65 245.08 541.92 245.75 542.9 246"/><path d="M307.7 331C308.92 330.67 312.45 329.83 315 329C317.55 328.17 320.33 327.08 323 326C325.67 324.92 328.33 323.67 331 322.5C333.67 321.33 336.67 320 339 319C341.33 318 343.17 317.25 345 316.5C346.83 315.75 348.4 315.12 350 314.5C351.6 313.88 353.83 313.08 354.6 312.8"/><path d="M307.7 338C308.92 337.75 312.45 337.17 315 336.5C317.55 335.83 320.33 335.08 323 334C325.67 332.92 328.33 331.5 331 330C333.67 328.5 336.83 326.5 339 325C341.17 323.5 342.33 322.33 344 321C345.67 319.67 347.67 318.08 349 317C350.33 315.92 351.07 315.2 352 314.5C352.93 313.8 354.17 313.08 354.6 312.8"/><path d="M354.6 312.8C355.33 312.8 357.6 312.77 359 312.8C360.4 312.83 362.33 312.97 363 313"/><path d="M354.6 312.8C356 313 359.93 313.55 363 314C366.07 314.45 369.67 315 373 315.5C376.33 316 379.33 316.5 383 317C386.67 317.5 390 318 395 318.5C400 319 408.67 319.5 413 320C417.33 320.5 417.67 320.92 421 321.5C424.33 322.08 429.17 322.83 433 323.5C436.83 324.17 440.83 325.42 444 325.5C447.17 325.58 449.5 324.08 452 324C454.5 323.92 456.67 324.5 459 325C461.33 325.5 463.67 326.92 466 327C468.33 327.08 470.67 326 473 325.5C475.33 325 477.17 324.42 480 324C482.83 323.58 487 323.33 490 323C493 322.67 495.33 322.5 498 322C500.67 321.5 503 320.67 506 320C509 319.33 512.33 318.75 516 318C519.67 317.25 524.67 316.17 528 315.5C531.33 314.83 533.52 314.42 536 314C538.48 313.58 541.75 313.17 542.9 313"/><path d="M354.6 312.8C355.83 313.17 359.6 314.3 362 315C364.4 315.7 366.67 316.17 369 317C371.33 317.83 373.67 319 376 320C378.33 321 380.83 322.17 383 323C385.17 323.83 387 324.5 389 325C391 325.5 392.67 325.88 395 326C397.33 326.12 400 326.03 403 325.7C406 325.37 410 324.2 413 324C416 323.8 417.67 324 421 324.5C424.33 325 429.17 326.33 433 327C436.83 327.67 440.83 327.92 444 328.5C447.17 329.08 449.33 329.92 452 330.5C454.67 331.08 457.33 331.5 460 332C462.67 332.5 465.33 333 468 333.5C470.67 334 473.5 334.65 476 335C478.5 335.35 480.58 335.5 483 335.6C485.42 335.7 488 335.78 490.5 335.6C493 335.42 495.42 334.93 498 334.5C500.58 334.07 503.5 333.58 506 333C508.5 332.42 510.67 331.83 513 331C515.33 330.17 517.83 329.08 520 328C522.17 326.92 524 325.83 526 324.5C528 323.17 530.17 321.42 532 320C533.83 318.58 535.18 317.17 537 316C538.82 314.83 541.92 313.5 542.9 313"/><path d="M354.6 312.8C355.17 313.5 356.6 315.3 358 317C359.4 318.7 361.33 321.17 363 323C364.67 324.83 366.33 326.33 368 328C369.67 329.67 371.5 331.67 373 333C374.5 334.33 375.67 335.25 377 336C378.33 336.75 379.33 337.17 381 337.5C382.67 337.83 385 337.92 387 338C389 338.08 391.17 338.08 393 338C394.83 337.92 396.33 337.92 398 337.5C399.67 337.08 401.33 336.08 403 335.5C404.67 334.92 406.33 334.58 408 334C409.67 333.42 410.83 332.42 413 332C415.17 331.58 417.67 331.58 421 331.5C424.33 331.42 429.17 331.5 433 331.5C436.83 331.5 440.33 331.83 444 331.5C447.67 331.17 451.33 330.08 455 329.5C458.67 328.92 463 327.83 466 328C469 328.17 470.67 329.67 473 330.5C475.33 331.33 477.08 332.42 480 333C482.92 333.58 487.5 334.08 490.5 334C493.5 333.92 495.42 333.17 498 332.5C500.58 331.83 503.33 331 506 330C508.67 329 511.67 327.58 514 326.5C516.33 325.42 518 324.5 520 323.5C522 322.5 524 321.5 526 320.5C528 319.5 529.18 318.72 532 317.5C534.82 316.28 541.08 313.92 542.9 313.2"/><path d="M307.7 338.5C308.92 338.92 312.45 340.25 315 341C317.55 341.75 320.33 342.33 323 343C325.67 343.67 328.33 344.5 331 345C333.67 345.5 336.33 345.72 339 346C341.67 346.28 344.4 346.53 347 346.7C349.6 346.87 351.93 347.03 354.6 347C357.27 346.97 359.93 346.83 363 346.5C366.07 346.17 369.67 345.5 373 345C376.33 344.5 379.67 343.92 383 343.5C386.33 343.08 389.67 342.83 393 342.5C396.33 342.17 399.67 342.08 403 341.5C406.33 340.92 410 339.92 413 339C416 338.08 417.67 336.5 421 336C424.33 335.5 429.17 336 433 336C436.83 336 441 335.75 444 336C447 336.25 448.67 337 451 337.5C453.33 338 454.83 338.58 458 339C461.17 339.42 466 339.83 470 340C474 340.17 478.58 340 482 340C485.42 340 487.5 339.92 490.5 340C493.5 340.08 497.08 340.33 500 340.5C502.92 340.67 504.67 340.58 508 341C511.33 341.42 516.33 342.42 520 343C523.67 343.58 526.18 344 530 344.5C533.82 345 540.75 345.75 542.9 346"/><path d="M307.7 340C308.92 340.42 312.45 341.67 315 342.5C317.55 343.33 320.33 344.25 323 345C325.67 345.75 328.33 346.42 331 347C333.67 347.58 336.33 348.08 339 348.5C341.67 348.92 344.4 349.17 347 349.5C349.6 349.83 351.93 350.25 354.6 350.5C357.27 350.75 359.93 350.92 363 351C366.07 351.08 369.67 351.25 373 351C376.33 350.75 379.67 350.25 383 349.5C386.33 348.75 389.67 347.42 393 346.5C396.33 345.58 399.67 344.58 403 344C406.33 343.42 410 343.17 413 343C416 342.83 417.67 343 421 343C424.33 343 429.17 343 433 343C436.83 343 441.17 343.25 444 343C446.83 342.75 448 342.08 450 341.5C452 340.92 453.83 339.67 456 339.5C458.17 339.33 460.67 340.17 463 340.5C465.33 340.83 467.17 341.25 470 341.5C472.83 341.75 476.58 341.92 480 342C483.42 342.08 487.17 341.83 490.5 342C493.83 342.17 496.75 342.67 500 343C503.25 343.33 506.67 343.67 510 344C513.33 344.33 516.67 344.67 520 345C523.33 345.33 526.18 345.67 530 346C533.82 346.33 540.75 346.83 542.9 347"/><path d="M444 344C445.33 344.17 449.33 344.67 452 345C454.67 345.33 457.33 345.67 460 346C462.67 346.33 465.33 346.75 468 347C470.67 347.25 473.5 347.25 476 347.5C478.5 347.75 480.58 348.25 483 348.5C485.42 348.75 487.67 348.83 490.5 349C493.33 349.17 496.75 349.37 500 349.5C503.25 349.63 506.67 349.72 510 349.8C513.33 349.88 516.67 349.97 520 350C523.33 350.03 526.18 350 530 350C533.82 350 540.75 350 542.9 350"/><path d="M307.7 356C308.92 355.83 312.45 355.33 315 355C317.55 354.67 320.33 354.33 323 354C325.67 353.67 328.33 353.33 331 353C333.67 352.67 336.33 352.33 339 352C341.67 351.67 344.4 351.25 347 351C349.6 350.75 351.93 350.83 354.6 350.5C357.27 350.17 359.93 349.58 363 349C366.07 348.42 369.67 347.58 373 347C376.33 346.42 379.67 346 383 345.5C386.33 345 389.67 344.42 393 344C396.33 343.58 399.67 343.17 403 343C406.33 342.83 411.33 343 413 343"/><path d="M307.7 355C309.75 355 315.78 355 320 355C324.22 355 328.83 355 333 355C337.17 355 341.4 355 345 355C348.6 355 351.27 355 354.6 355C357.93 355 361.6 354.92 365 355C368.4 355.08 371.67 355.5 375 355.5C378.33 355.5 381.17 355.42 385 355C388.83 354.58 393.83 353.33 398 353C402.17 352.67 406.17 353 410 353C413.83 353 417.17 352.83 421 353C424.83 353.17 429.17 353.67 433 354C436.83 354.33 440.33 354.83 444 355C447.67 355.17 451.33 354.92 455 355C458.67 355.08 462.17 355.5 466 355.5C469.83 355.5 473.92 355.18 478 355C482.08 354.82 486.83 354.57 490.5 354.4C494.17 354.23 496.75 354.07 500 354C503.25 353.93 506.67 354.17 510 354C513.33 353.83 516.67 353.33 520 353C523.33 352.67 526.18 352.42 530 352C533.82 351.58 540.75 350.75 542.9 350.5"/><path d="M307.7 357C309.75 357 315.78 357 320 357C324.22 357 328.83 356.92 333 357C337.17 357.08 341.4 357.33 345 357.5C348.6 357.67 351.27 357.92 354.6 358C357.93 358.08 361.6 358.08 365 358C368.4 357.92 371.67 357.67 375 357.5C378.33 357.33 381.17 357.25 385 357C388.83 356.75 393.83 356.2 398 356C402.17 355.8 406.17 355.87 410 355.8C413.83 355.73 417.17 355.57 421 355.6C424.83 355.63 429.17 355.77 433 356C436.83 356.23 440.17 356.67 444 357C447.83 357.33 452.33 357.83 456 358C459.67 358.17 462.33 358.17 466 358C469.67 357.83 473.92 357.33 478 357C482.08 356.67 486.83 356.17 490.5 356C494.17 355.83 496.75 355.92 500 356C503.25 356.08 506.67 356.17 510 356.5C513.33 356.83 516.67 357.42 520 358C523.33 358.58 526.18 359.42 530 360C533.82 360.58 540.75 361.25 542.9 361.5"/><path d="M307.7 359C309.75 359 315.78 358.92 320 359C324.22 359.08 328.83 359.25 333 359.5C337.17 359.75 341.4 360.25 345 360.5C348.6 360.75 351.6 360.58 354.6 361C357.6 361.42 360.43 362.83 363 363C365.57 363.17 367.5 362.5 370 362C372.5 361.5 375.17 360.58 378 360C380.83 359.42 383.67 358.83 387 358.5C390.33 358.17 394.17 358.08 398 358C401.83 357.92 406.17 358 410 358C413.83 358 417.17 357.92 421 358C424.83 358.08 429.17 358.42 433 358.5C436.83 358.58 440.17 358.5 444 358.5C447.83 358.5 452.33 358.5 456 358.5C459.67 358.5 462.33 358.55 466 358.5C469.67 358.45 473.92 358.28 478 358.2C482.08 358.12 486.83 357.95 490.5 358C494.17 358.05 496.75 358.25 500 358.5C503.25 358.75 506.67 359.08 510 359.5C513.33 359.92 516.67 360.5 520 361C523.33 361.5 526.18 362.08 530 362.5C533.82 362.92 540.75 363.33 542.9 363.5"/><path d="M323 355C324.67 355.25 329.67 356 333 356.5C336.33 357 339.4 357.55 343 358C346.6 358.45 351.27 359.12 354.6 359.2C357.93 359.28 361.6 358.62 363 358.5"/><path d="M307.7 367.5C309.75 367.38 315.78 367.05 320 366.8C324.22 366.55 328.83 366.38 333 366C337.17 365.62 341.4 364.83 345 364.5C348.6 364.17 351.6 364.42 354.6 364C357.6 363.58 359.93 362.67 363 362C366.07 361.33 369.67 360.67 373 360C376.33 359.33 379.67 358.58 383 358C386.33 357.42 389.67 356.92 393 356.5C396.33 356.08 399.67 355.75 403 355.5C406.33 355.25 411.33 355.08 413 355"/><path d="M490.5 356.5C492.08 356.58 496.75 356.83 500 357C503.25 357.17 506.67 357.25 510 357.5C513.33 357.75 516.67 358.17 520 358.5C523.33 358.83 526.18 359.25 530 359.5C533.82 359.75 540.75 359.92 542.9 360"/><path d="M307.7 398C309.75 398 315.78 398 320 398C324.22 398 328.83 398.03 333 398C337.17 397.97 341.4 397.87 345 397.8C348.6 397.73 351.6 397.82 354.6 397.6C357.6 397.38 359.93 396.93 363 396.5C366.07 396.07 369.67 395.42 373 395C376.33 394.58 379.67 394.33 383 394C386.33 393.67 389.67 393.28 393 393C396.33 392.72 399.67 392.55 403 392.3C406.33 392.05 410 391.72 413 391.5C416 391.28 417.83 391.18 421 391C424.17 390.82 428.17 390.57 432 390.4C435.83 390.23 440.67 389.93 444 390C447.33 390.07 449 390.47 452 390.8C455 391.13 459 391.63 462 392C465 392.37 467.33 392.73 470 393C472.67 393.27 474.58 393.35 478 393.6C481.42 393.85 486.83 394.27 490.5 394.5C494.17 394.73 496.75 394.92 500 395C503.25 395.08 506.67 394.92 510 395C513.33 395.08 516.67 395.33 520 395.5C523.33 395.67 526.18 395.75 530 396C533.82 396.25 540.75 396.83 542.9 397"/><path d="M307.7 401.5C308.58 401.67 311.12 402.2 313 402.5C314.88 402.8 316.83 403 319 403.3C321.17 403.6 324.83 404.13 326 404.3"/><path d="M333 404.6C333.83 404.33 336.17 403.68 338 403C339.83 402.32 342.17 401.25 344 400.5C345.83 399.75 347.23 398.98 349 398.5C350.77 398.02 352.93 397.6 354.6 397.6C356.27 397.6 357.43 397.93 359 398.5C360.57 399.07 362.33 400.08 364 401C365.67 401.92 367.83 403.37 369 404C370.17 404.63 370.67 404.67 371 404.8"/><path d="M380 404.5C381.67 403.92 387 402 390 401C393 400 394.67 399.08 398 398.5C401.33 397.92 406.17 397.75 410 397.5C413.83 397.25 417.17 397.08 421 397C424.83 396.92 429.17 397 433 397C436.83 397 440.67 396.92 444 397C447.33 397.08 450 397.33 453 397.5C456 397.67 458.17 397.87 462 398C465.83 398.13 471.25 398.33 476 398.3C480.75 398.27 485.67 397.88 490.5 397.8C495.33 397.72 500.08 397.77 505 397.8C509.92 397.83 515.83 397.93 520 398C524.17 398.07 526.18 398.2 530 398.2C533.82 398.2 540.75 398.03 542.9 398"/><path d="M444 398C445.33 398.17 449 398.67 452 399C455 399.33 459 399.67 462 400C465 400.33 467.33 400.58 470 401C472.67 401.42 475.5 402.08 478 402.5C480.5 402.92 482.92 403.28 485 403.5C487.08 403.72 488 403.83 490.5 403.8C493 403.77 496.75 403.55 500 403.3C503.25 403.05 506.67 402.77 510 402.3C513.33 401.83 516.67 401.05 520 400.5C523.33 399.95 527.33 399.38 530 399C532.67 398.62 533.85 398.4 536 398.2C538.15 398 541.75 397.87 542.9 397.8"/><path d="M402 404.5C403.33 404.25 406.83 403.42 410 403C413.17 402.58 417.17 402.08 421 402C424.83 401.92 429.83 402.12 433 402.5C436.17 402.88 438.83 404 440 404.3"/></g>
<g clip-path="url(#cpd)">
<line class="dv" x1="354.8" y1="212.75" x2="354.8" y2="404.9"/>
<line class="dv" x1="420.6" y1="212.25" x2="420.6" y2="404.9"/>
<line class="dv" x1="444.2" y1="219.75" x2="444.2" y2="404.9"/>
<line class="dv" x1="490.5" y1="218.75" x2="490.5" y2="404.9"/>
<line class="dh" x1="307.7" y1="312.6" x2="542.9" y2="312.6"/>
</g>
<line class="tk" x1="307.7" y1="404.9" x2="311.5" y2="404.9"/>
<line class="tk" x1="307.7" y1="389.52" x2="309.9" y2="389.52"/>
<line class="tk" x1="307.7" y1="374.13" x2="311.5" y2="374.13"/>
<line class="tk" x1="307.7" y1="358.75" x2="309.9" y2="358.75"/>
<line class="tk" x1="307.7" y1="343.37" x2="311.5" y2="343.37"/>
<line class="tk" x1="307.7" y1="327.98" x2="309.9" y2="327.98"/>
<line class="tk" x1="307.7" y1="312.6" x2="311.5" y2="312.6"/>
<line class="tk" x1="307.7" y1="297.22" x2="309.9" y2="297.22"/>
<line class="tk" x1="307.7" y1="281.83" x2="311.5" y2="281.83"/>
<line class="tk" x1="307.7" y1="266.45" x2="309.9" y2="266.45"/>
<line class="tk" x1="307.7" y1="251.07" x2="311.5" y2="251.07"/>
<line class="tk" x1="307.7" y1="235.68" x2="309.9" y2="235.68"/>
<line class="tk" x1="307.7" y1="220.3" x2="311.5" y2="220.3"/>
<rect class="fr" x="307.7" y="220.3" width="235.2" height="184.6"/>
<text class="tl" x="304.1" y="226">3</text>
<text class="tl" x="304.1" y="256.77">2</text>
<text class="tl" x="304.1" y="287.53">1</text>
<text class="tl" x="304.1" y="318.3">0</text>
<text class="tl" x="304.1" y="349.07">−1</text>
<text class="tl" x="304.1" y="379.83">−2</text>
<text class="tl" x="302.1" y="407.7">−3</text>
<text class="kl" x="306.7" y="421.8">Z</text>
<text class="kl" x="353" y="421.8">G</text>
<text class="kl" x="419.6" y="420.5">X</text>
<text class="kl" x="444.6" y="420.5">P</text>
<text class="kl" x="491.2" y="420.5">N</text>
<text class="kl" x="539.8" y="419.4">G</text>
<text class="yl" transform="translate(289.4 302) rotate(-90)">Energy(eV)</text>
<text class="an" x="364.1" y="284.2">−6 GPa</text>
<text class="an" x="367.2" y="307.4">0.03eV</text>
<text class="lt" x="496.4" y="247.9">(d)</text>
</svg>
</body></html>
